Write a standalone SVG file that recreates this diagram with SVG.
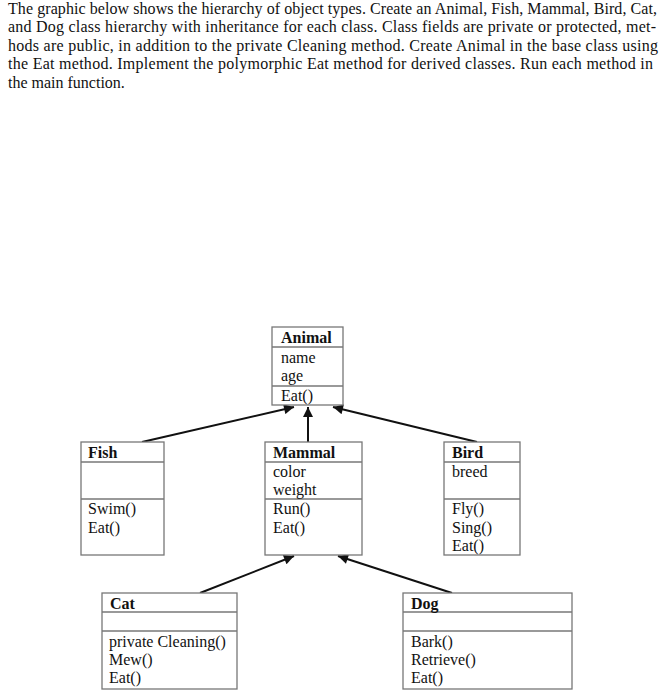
<svg xmlns="http://www.w3.org/2000/svg" width="670" height="700" viewBox="0 0 670 700">
<style>
.p{font-family:"Liberation Serif","Times New Roman",serif;font-size:16px;fill:#111}
.t{font-family:"Liberation Serif","Times New Roman",serif;font-size:16px;fill:#111}
.b{font-weight:bold}
.box{fill:#fff;stroke:#777;stroke-width:1.3}
.sep{stroke:#777;stroke-width:1.3}
.c{stroke:#111;stroke-width:2;fill:none;marker-end:url(#ah)}
</style>
<defs>
<marker id="ah" viewBox="0 0 10 10" refX="10" refY="5" markerWidth="6" markerHeight="5" orient="auto" markerUnits="strokeWidth">
<path d="M0,0 L10,5 L0,10 z" fill="#111"/>
</marker>
</defs>
<rect width="670" height="700" fill="#fff"/>
<g id="intro">
<text class="p" x="8" y="14" textLength="649" lengthAdjust="spacing">The graphic below shows the hierarchy of object types. Create an Animal, Fish, Mammal, Bird, Cat,</text>
<text class="p" x="8" y="32" textLength="648" lengthAdjust="spacing">and Dog class hierarchy with inheritance for each class. Class fields are private or protected, met-</text>
<text class="p" x="8" y="50.5" textLength="650" lengthAdjust="spacing">hods are public, in addition to the private Cleaning method. Create Animal in the base class using</text>
<text class="p" x="8" y="69" textLength="645" lengthAdjust="spacing">the Eat method. Implement the polymorphic Eat method for derived classes. Run each method in</text>
<text class="p" x="8" y="87.5">the main function.</text>
</g>
<g id="connectors">
<line class="c" x1="142" y1="442" x2="294" y2="407"/>
<line class="c" x1="308" y1="442" x2="308" y2="407"/>
<line class="c" x1="477" y1="442" x2="333" y2="407"/>
<line class="c" x1="200" y1="593" x2="294" y2="556"/>
<line class="c" x1="452" y1="593" x2="338" y2="556"/>
</g>
<g id="animal">
<rect class="box" x="272" y="327" width="71" height="78"/>
<line class="sep" x1="272" y1="347" x2="343" y2="347"/>
<line class="sep" x1="272" y1="386" x2="343" y2="386"/>
<text class="t b" x="281" y="343">Animal</text>
<text class="t" x="281" y="363">name</text>
<text class="t" x="281" y="381">age</text>
<text class="t" x="281" y="401">Eat()</text>
</g>
<g id="fish">
<rect class="box" x="81" y="442" width="83" height="113"/>
<line class="sep" x1="81" y1="462" x2="164" y2="462"/>
<line class="sep" x1="81" y1="499" x2="164" y2="499"/>
<text class="t b" x="88" y="458">Fish</text>
<text class="t" x="88" y="514">Swim()</text>
<text class="t" x="88" y="533">Eat()</text>
</g>
<g id="mammal">
<rect class="box" x="265" y="442" width="97" height="113"/>
<line class="sep" x1="265" y1="462" x2="362" y2="462"/>
<line class="sep" x1="265" y1="499" x2="362" y2="499"/>
<text class="t b" x="273" y="458">Mammal</text>
<text class="t" x="273" y="477">color</text>
<text class="t" x="273" y="495">weight</text>
<text class="t" x="273" y="514">Run()</text>
<text class="t" x="273" y="533">Eat()</text>
</g>
<g id="bird">
<rect class="box" x="444" y="442" width="76" height="113"/>
<line class="sep" x1="444" y1="462" x2="520" y2="462"/>
<line class="sep" x1="444" y1="499" x2="520" y2="499"/>
<text class="t b" x="452" y="458">Bird</text>
<text class="t" x="452" y="477">breed</text>
<text class="t" x="452" y="514">Fly()</text>
<text class="t" x="452" y="533">Sing()</text>
<text class="t" x="452" y="551">Eat()</text>
</g>
<g id="cat">
<rect class="box" x="102" y="593" width="135" height="96"/>
<line class="sep" x1="102" y1="612" x2="237" y2="612"/>
<line class="sep" x1="102" y1="631" x2="237" y2="631"/>
<text class="t b" x="110" y="609">Cat</text>
<text class="t" x="109" y="647">private Cleaning()</text>
<text class="t" x="109" y="665">Mew()</text>
<text class="t" x="109" y="683">Eat()</text>
</g>
<g id="dog">
<rect class="box" x="403" y="593" width="169" height="96"/>
<line class="sep" x1="403" y1="612" x2="572" y2="612"/>
<line class="sep" x1="403" y1="631" x2="572" y2="631"/>
<text class="t b" x="411" y="609">Dog</text>
<text class="t" x="411" y="647">Bark()</text>
<text class="t" x="411" y="665">Retrieve()</text>
<text class="t" x="411" y="683">Eat()</text>
</g>
</svg>
